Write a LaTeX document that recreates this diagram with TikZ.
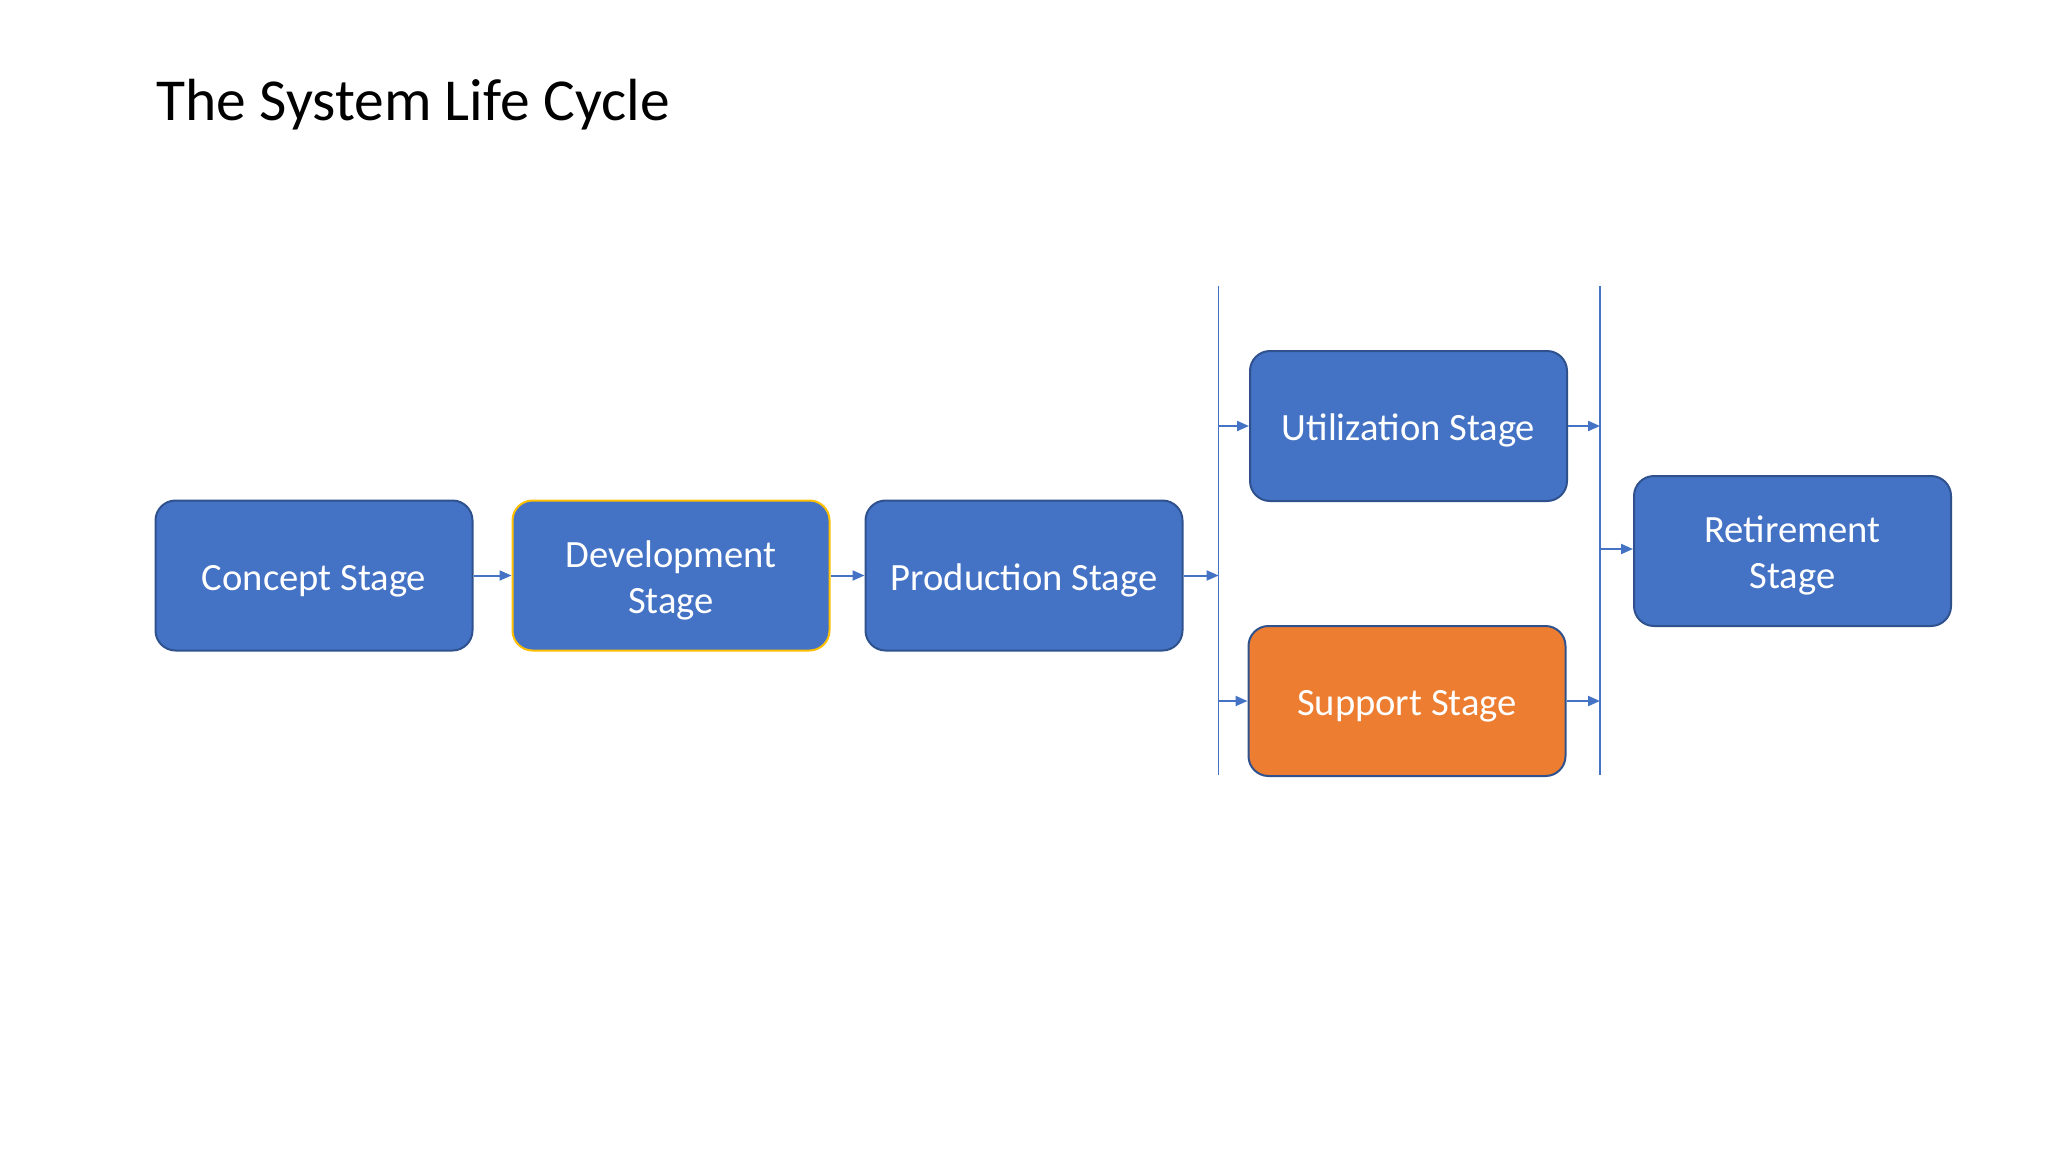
\documentclass[tikz,border=0pt]{standalone}
\usepackage{fontspec}
\setmainfont{Carlito}
\usetikzlibrary{arrows.meta}
\definecolor{boxblue}{HTML}{4472C4}
\definecolor{boxedge}{HTML}{2F528F}
\definecolor{boxorange}{HTML}{ED7D31}
\definecolor{boxgold}{HTML}{FFC000}
\newcommand{\sst}{\rule[-8pt]{0pt}{45.6pt}}
\newcommand{\sstop}{\rule{0pt}{37.6pt}}
\newcommand{\sstbot}{\rule[-8pt]{0pt}{8pt}}
\tikzset{
  stagebox/.style={draw=boxedge, line width=2pt, fill=boxblue, rounded corners=20pt,
    minimum width=317pt, minimum height=150pt, inner sep=0pt, text=white, align=center,
    font=\fontsize{38.6pt}{46pt}\selectfont},
  flow/.style={draw=boxblue, line width=2pt, -{Triangle[length=12pt,width=10pt]}},
  bar/.style={draw=boxblue, line width=1.3pt},
}
\begin{document}
\begin{tikzpicture}[x=1pt,y=-1pt]
\useasboundingbox (0,0) rectangle (2048,1152);
\fill[white] (0,0) rectangle (2048,1152);
\node[anchor=base west, inner sep=0pt, font=\fontsize{59.5pt}{72pt}\selectfont] (title) at (156,120) {The System Life Cycle};

\node[stagebox] (concept) at (314,575.5) {\sst Concept Stage};
\node[stagebox, draw=boxgold] (dev) at (671,575.5) {\sstop Development\\\sstbot Stage};
\node[stagebox] (prod) at (1024,575.5) {\sst Production Stage};
\node[stagebox] (util) at (1408.5,426) {\sst Utilization Stage};
\node[stagebox, fill=boxorange] (supp) at (1407,701) {\sst Support Stage};
\node[stagebox] (ret) at (1792.5,551) {\sstop Retirement\\\sstbot Stage};

\coordinate (l1t) at (1218.6,286);
\coordinate (l1b) at (1218.6,774.5);
\coordinate (l2t) at (1600,286);
\coordinate (l2b) at (1600,774.5);
\draw[bar] (l1t) -- (l1b);
\draw[bar] (l2t) -- (l2b);

\coordinate (l1p) at (1218.6,575.5);
\coordinate (l1u) at (1218.6,426);
\coordinate (l1s) at (1218.6,701);
\coordinate (l2u) at (1600,426);
\coordinate (l2s) at (1600,701);
\coordinate (l2r) at (1600,549);

\draw[flow] (concept.east) -- (dev.west);
\draw[flow] (dev.east) -- (prod.west);
\draw[flow] (prod.east) -- (l1p);
\draw[flow] (l1u) -- (util.west);
\draw[flow] (l1s) -- (supp.west);
\draw[flow] (util.east) -- (l2u);
\draw[flow] (supp.east) -- (l2s);
\draw[flow] (l2r) -- (l2r -| ret.west);
\end{tikzpicture}
\end{document}
